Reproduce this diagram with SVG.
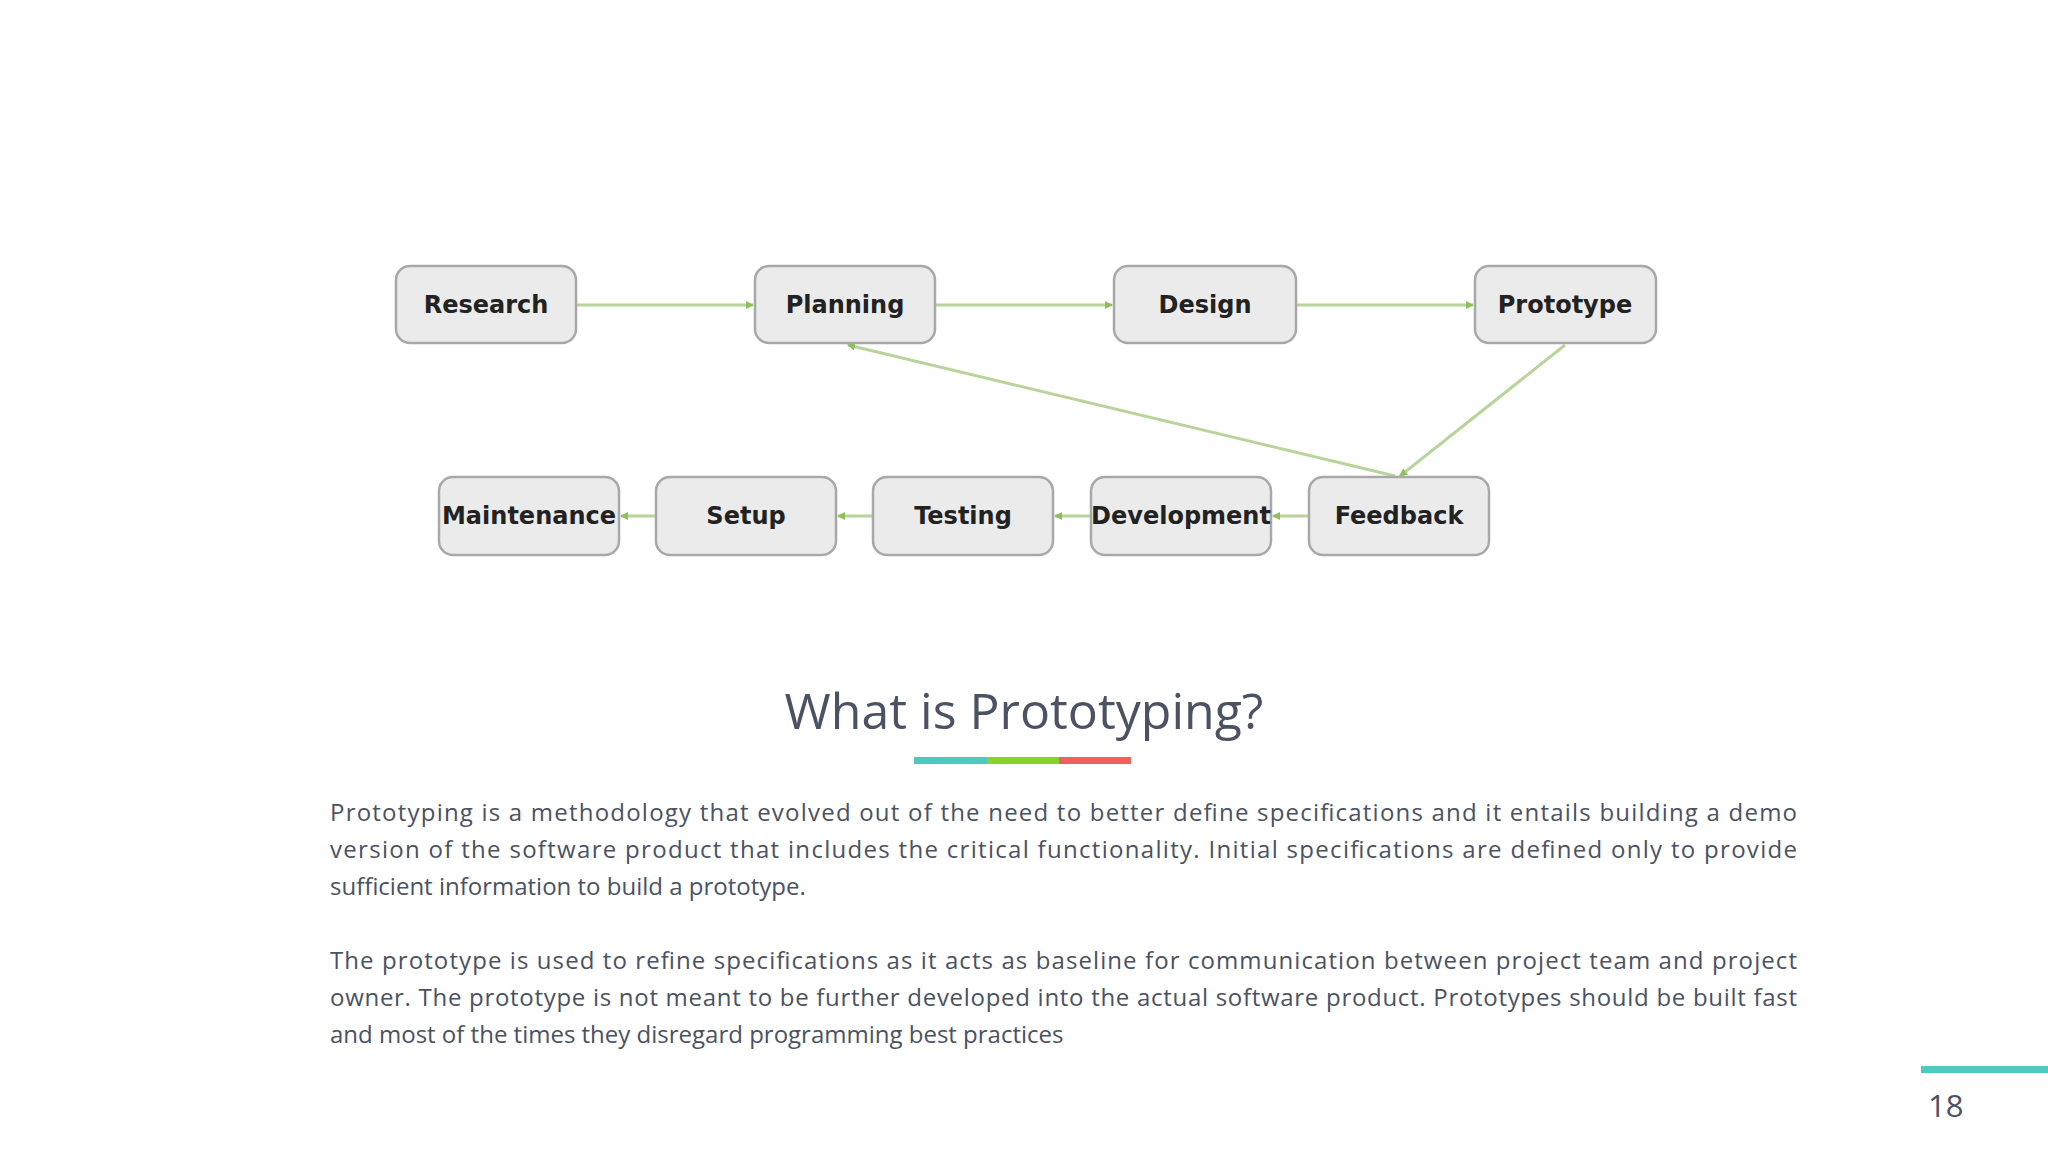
<svg xmlns="http://www.w3.org/2000/svg" width="2048" height="1152" viewBox="0 0 2048 1152">
<style>
.n rect{fill:#ebebeb;stroke:#a8a8a8;stroke-width:2.5}
.n text{font-family:"DejaVu Sans",sans-serif;font-weight:bold;font-size:24px;fill:#222;text-anchor:middle}
.c{stroke:#b9d49a;stroke-width:3;fill:none;marker-end:url(#a)}
.p{font-family:"Open Sans",sans-serif;font-size:24px;fill:#4a5263}
</style>
<defs><marker id="a" markerWidth="8" markerHeight="8" refX="7" refY="4" orient="auto" markerUnits="userSpaceOnUse"><path d="M0,0L8,4L0,8z" fill="#8fbf5a"/></marker></defs>
<rect width="2048" height="1152" fill="#fff"/>
<g id="connectors">
<line class="c" x1="576" y1="305" x2="753" y2="305"/>
<line class="c" x1="935" y1="305" x2="1112" y2="305"/>
<line class="c" x1="1296" y1="305" x2="1473" y2="305"/>
<line class="c" x1="1565" y1="345" x2="1400" y2="476"/>
<line class="c" x1="1395" y1="476" x2="848" y2="345"/>
<line class="c" x1="1309" y1="516" x2="1273" y2="516"/>
<line class="c" x1="1091" y1="516" x2="1055" y2="516"/>
<line class="c" x1="873" y1="516" x2="838" y2="516"/>
<line class="c" x1="656" y1="516" x2="621" y2="516"/>
</g>
<g id="research" class="n"><rect x="396" y="266" width="180" height="77" rx="14"/><text x="486" y="313">Research</text></g>
<g id="planning" class="n"><rect x="755" y="266" width="180" height="77" rx="14"/><text x="845" y="313">Planning</text></g>
<g id="design" class="n"><rect x="1114" y="266" width="182" height="77" rx="14"/><text x="1205" y="313">Design</text></g>
<g id="prototype" class="n"><rect x="1475" y="266" width="181" height="77" rx="14"/><text x="1565" y="313">Prototype</text></g>
<g id="maintenance" class="n"><rect x="439" y="477" width="180" height="78" rx="14"/><text x="529" y="524">Maintenance</text></g>
<g id="setup" class="n"><rect x="656" y="477" width="180" height="78" rx="14"/><text x="746" y="524">Setup</text></g>
<g id="testing" class="n"><rect x="873" y="477" width="180" height="78" rx="14"/><text x="963" y="524">Testing</text></g>
<g id="development" class="n"><rect x="1091" y="477" width="180" height="78" rx="14"/><text x="1181" y="524">Development</text></g>
<g id="feedback" class="n"><rect x="1309" y="477" width="180" height="78" rx="14"/><text x="1399" y="524">Feedback</text></g>
<text x="1024" y="729" font-family="Open Sans,sans-serif" font-size="50" fill="#4a5263" text-anchor="middle">What is Prototyping?</text>
<rect x="914" y="757" width="73" height="7" fill="#4ec9c1"/>
<rect x="987" y="757" width="72" height="7" fill="#8bd12b"/>
<rect x="1059" y="757" width="72" height="7" fill="#f0605d"/>
<text class="p" x="330" y="821" textLength="1467" lengthAdjust="spacing">Prototyping is a methodology that evolved out of the need to better define specifications and it entails building a demo</text>
<text class="p" x="330" y="858" textLength="1467" lengthAdjust="spacing">version of the software product that includes the critical functionality. Initial specifications are defined only to provide</text>
<text class="p" x="330" y="895">sufficient information to build a prototype.</text>
<text class="p" x="330" y="969" textLength="1467" lengthAdjust="spacing">The prototype is used to refine specifications as it acts as baseline for communication between project team and project</text>
<text class="p" x="330" y="1006" textLength="1467" lengthAdjust="spacing">owner. The prototype is not meant to be further developed into the actual software product. Prototypes should be built fast</text>
<text class="p" x="330" y="1043">and most of the times they disregard programming best practices</text>
<rect x="1921" y="1066" width="127" height="7" fill="#4ec9c1"/>
<text x="1928" y="1117" font-family="Open Sans,sans-serif" font-size="31" fill="#4a5263">18</text>
</svg>
